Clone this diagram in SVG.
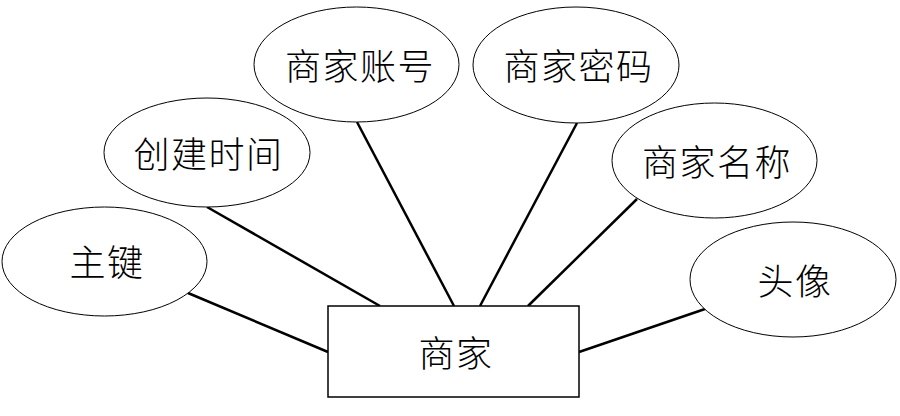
<svg xmlns="http://www.w3.org/2000/svg" width="900" height="416" viewBox="0 0 900 416">
<style>
.attr ellipse{fill:#fff;stroke:#000;stroke-width:1}
.ent rect{fill:#fff;stroke:#000;stroke-width:1.5}
text{font-family:"Noto Sans CJK SC","Noto Sans CJK JP",sans-serif;font-size:36px;font-weight:300;letter-spacing:1.5px;fill:#000;text-anchor:middle;dominant-baseline:central}
#connectors line{stroke:#000;stroke-width:2.5}
</style>
<rect width="900" height="416" fill="#fff"/>
<g id="connectors">
<line x1="188" y1="293" x2="328" y2="352"/>
<line x1="207" y1="207" x2="380" y2="306"/>
<line x1="357" y1="122" x2="454" y2="306"/>
<line x1="577" y1="123" x2="480" y2="306"/>
<line x1="637" y1="199" x2="528" y2="306"/>
<line x1="705" y1="309" x2="579" y2="352"/>
</g>
<g id="e_account" class="attr"><ellipse cx="356.5" cy="64.5" rx="102.5" ry="57.5"/><text x="360" y="63.5">商家账号</text></g>
<g id="e_password" class="attr"><ellipse cx="576" cy="65" rx="103" ry="58"/><text x="578.5" y="64">商家密码</text></g>
<g id="e_created" class="attr"><ellipse cx="207" cy="152.5" rx="103" ry="54.5"/><text x="208.5" y="151.5">创建时间</text></g>
<g id="e_name" class="attr"><ellipse cx="714.5" cy="160.5" rx="102.5" ry="57.5"/><text x="717" y="159.5">商家名称</text></g>
<g id="e_pk" class="attr"><ellipse cx="104.5" cy="261.5" rx="102.5" ry="54.5"/><text x="107" y="259.5">主键</text></g>
<g id="e_avatar" class="attr"><ellipse cx="793" cy="279.5" rx="103" ry="57.5"/><text x="795" y="278.5">头像</text></g>
<g id="merchant" class="ent"><rect x="328" y="306" width="251" height="91"/><text x="456" y="351">商家</text></g>
</svg>
